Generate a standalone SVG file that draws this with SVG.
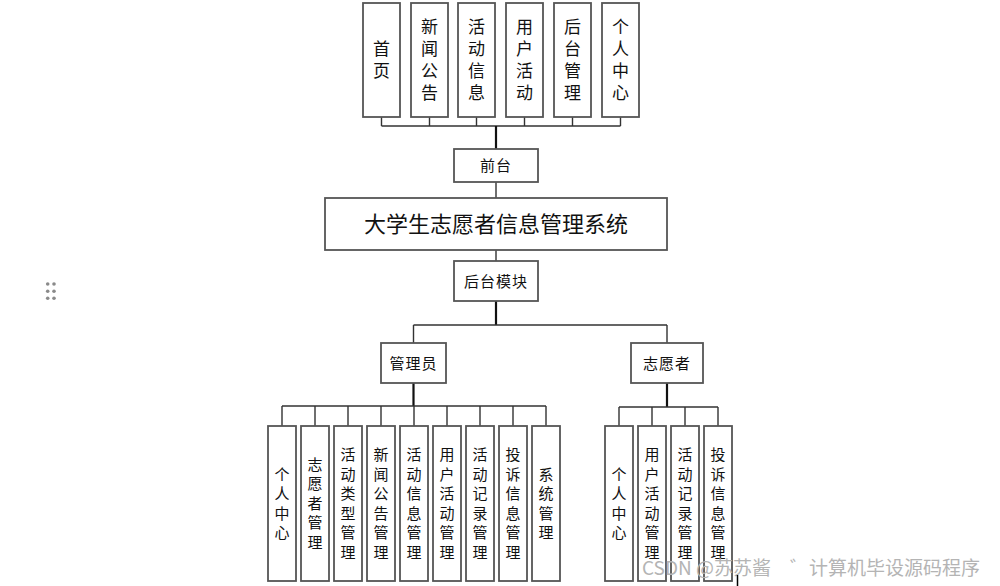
<svg xmlns="http://www.w3.org/2000/svg" width="1000" height="586" viewBox="0 0 1000 586">
<style>
.box{fill:#fff;stroke:#555;stroke-width:1.8}
.t{font-family:"Noto Sans CJK SC","Noto Sans",sans-serif;fill:#111;text-anchor:middle}
.top{font-size:17px}
.sub{font-size:15px}
.mid{font-size:15px;letter-spacing:1px}
.title{font-size:22px}
.c{fill:none;stroke:#333;stroke-width:1.4}
.k{fill:none;stroke:#111;stroke-width:2.2}
.wm{font-family:"Noto Sans CJK SC","Liberation Sans",sans-serif;font-size:19px;fill:#b4b4b4}
</style>
<rect width="1000" height="586" fill="#fff"/>
<g id="drag" fill="#8a8a8a">
<circle cx="47.7" cy="284" r="1.8"/><circle cx="54" cy="284" r="1.8"/>
<circle cx="47.7" cy="291.3" r="1.8"/><circle cx="54" cy="291.3" r="1.8"/>
<circle cx="47.7" cy="298.3" r="1.8"/><circle cx="54" cy="298.3" r="1.8"/>
</g>
<g id="connectors">
<path class="c" d="M381.5 117V126M429.5 117V126M476.5 117V126M524.5 117V126M572.5 117V126M620.5 117V126M381.5 126H620.5"/>
<path class="k" d="M496 126V149"/>
<path class="c" d="M496 182V198M496 250V261"/>
<path class="k" d="M496 301V325"/>
<path class="c" d="M413.5 325H667M413.5 325V343M667 325V343"/>
<path class="k" d="M413.5 383V406M667 383V407"/>
<path class="c" d="M282 406H546M282 406V426M315 406V426M348 406V426M381 406V426M414 406V426M447 406V426M480 406V426M513 406V426M546 406V426"/>
<path class="c" d="M619 407H718M619 407V426M652 407V426M685 407V426M718 407V426"/>
</g>
<g id="n-home"><rect class="box" x="363" y="3" width="37" height="114"/><text class="t top"><tspan x="381.5" y="55">首</tspan><tspan x="381.5" y="77">页</tspan></text></g>
<g id="n-news"><rect class="box" x="411" y="3" width="37" height="114"/><text class="t top"><tspan x="429.5" y="33">新</tspan><tspan x="429.5" y="55">闻</tspan><tspan x="429.5" y="77">公</tspan><tspan x="429.5" y="99">告</tspan></text></g>
<g id="n-act"><rect class="box" x="458" y="3" width="37" height="114"/><text class="t top"><tspan x="476.5" y="33">活</tspan><tspan x="476.5" y="55">动</tspan><tspan x="476.5" y="77">信</tspan><tspan x="476.5" y="99">息</tspan></text></g>
<g id="n-useract"><rect class="box" x="506" y="3" width="37" height="114"/><text class="t top"><tspan x="524.5" y="33">用</tspan><tspan x="524.5" y="55">户</tspan><tspan x="524.5" y="77">活</tspan><tspan x="524.5" y="99">动</tspan></text></g>
<g id="n-backmgr"><rect class="box" x="554" y="3" width="37" height="114"/><text class="t top"><tspan x="572.5" y="33">后</tspan><tspan x="572.5" y="55">台</tspan><tspan x="572.5" y="77">管</tspan><tspan x="572.5" y="99">理</tspan></text></g>
<g id="n-personal"><rect class="box" x="602" y="3" width="37" height="114"/><text class="t top"><tspan x="620.5" y="33">个</tspan><tspan x="620.5" y="55">人</tspan><tspan x="620.5" y="77">中</tspan><tspan x="620.5" y="99">心</tspan></text></g>
<g id="n-front"><rect class="box" x="454" y="149" width="84" height="33"/><text class="t mid" x="496" y="171">前台</text></g>
<g id="n-system"><rect class="box" x="325" y="198" width="342" height="52"/><text class="t title" x="496" y="232">大学生志愿者信息管理系统</text></g>
<g id="n-back"><rect class="box" x="454" y="261" width="84" height="40"/><text class="t mid" x="496" y="286.5">后台模块</text></g>
<g id="n-admin"><rect class="box" x="381" y="343" width="65" height="40"/><text class="t mid" x="413.5" y="368.5">管理员</text></g>
<g id="n-volunteer"><rect class="box" x="631" y="343" width="72" height="40"/><text class="t mid" x="667" y="368.5">志愿者</text></g>
<g id="a1"><rect class="box" x="268" y="426" width="28" height="155"/><text class="t sub"><tspan x="282" y="479.5">个</tspan><tspan x="282" y="499">人</tspan><tspan x="282" y="518.5">中</tspan><tspan x="282" y="538">心</tspan></text></g>
<g id="a2"><rect class="box" x="301" y="426" width="28" height="155"/><text class="t sub"><tspan x="315" y="469.8">志</tspan><tspan x="315" y="489.3">愿</tspan><tspan x="315" y="508.8">者</tspan><tspan x="315" y="528.3">管</tspan><tspan x="315" y="547.8">理</tspan></text></g>
<g id="a3"><rect class="box" x="334" y="426" width="28" height="155"/><text class="t sub"><tspan x="348" y="460">活</tspan><tspan x="348" y="479.5">动</tspan><tspan x="348" y="499">类</tspan><tspan x="348" y="518.5">型</tspan><tspan x="348" y="538">管</tspan><tspan x="348" y="557.5">理</tspan></text></g>
<g id="a4"><rect class="box" x="367" y="426" width="28" height="155"/><text class="t sub"><tspan x="381" y="460">新</tspan><tspan x="381" y="479.5">闻</tspan><tspan x="381" y="499">公</tspan><tspan x="381" y="518.5">告</tspan><tspan x="381" y="538">管</tspan><tspan x="381" y="557.5">理</tspan></text></g>
<g id="a5"><rect class="box" x="400" y="426" width="28" height="155"/><text class="t sub"><tspan x="414" y="460">活</tspan><tspan x="414" y="479.5">动</tspan><tspan x="414" y="499">信</tspan><tspan x="414" y="518.5">息</tspan><tspan x="414" y="538">管</tspan><tspan x="414" y="557.5">理</tspan></text></g>
<g id="a6"><rect class="box" x="433" y="426" width="28" height="155"/><text class="t sub"><tspan x="447" y="460">用</tspan><tspan x="447" y="479.5">户</tspan><tspan x="447" y="499">活</tspan><tspan x="447" y="518.5">动</tspan><tspan x="447" y="538">管</tspan><tspan x="447" y="557.5">理</tspan></text></g>
<g id="a7"><rect class="box" x="466" y="426" width="28" height="155"/><text class="t sub"><tspan x="480" y="460">活</tspan><tspan x="480" y="479.5">动</tspan><tspan x="480" y="499">记</tspan><tspan x="480" y="518.5">录</tspan><tspan x="480" y="538">管</tspan><tspan x="480" y="557.5">理</tspan></text></g>
<g id="a8"><rect class="box" x="499" y="426" width="28" height="155"/><text class="t sub"><tspan x="513" y="460">投</tspan><tspan x="513" y="479.5">诉</tspan><tspan x="513" y="499">信</tspan><tspan x="513" y="518.5">息</tspan><tspan x="513" y="538">管</tspan><tspan x="513" y="557.5">理</tspan></text></g>
<g id="a9"><rect class="box" x="532" y="426" width="28" height="155"/><text class="t sub"><tspan x="546" y="479.5">系</tspan><tspan x="546" y="499">统</tspan><tspan x="546" y="518.5">管</tspan><tspan x="546" y="538">理</tspan></text></g>
<g id="v1"><rect class="box" x="605" y="426" width="28" height="155"/><text class="t sub"><tspan x="619" y="479.5">个</tspan><tspan x="619" y="499">人</tspan><tspan x="619" y="518.5">中</tspan><tspan x="619" y="538">心</tspan></text></g>
<g id="v2"><rect class="box" x="638" y="426" width="28" height="155"/><text class="t sub"><tspan x="652" y="460">用</tspan><tspan x="652" y="479.5">户</tspan><tspan x="652" y="499">活</tspan><tspan x="652" y="518.5">动</tspan><tspan x="652" y="538">管</tspan><tspan x="652" y="557.5">理</tspan></text></g>
<g id="v3"><rect class="box" x="671" y="426" width="28" height="155"/><text class="t sub"><tspan x="685" y="460">活</tspan><tspan x="685" y="479.5">动</tspan><tspan x="685" y="499">记</tspan><tspan x="685" y="518.5">录</tspan><tspan x="685" y="538">管</tspan><tspan x="685" y="557.5">理</tspan></text></g>
<g id="v4"><rect class="box" x="704" y="426" width="28" height="155"/><text class="t sub"><tspan x="718" y="460">投</tspan><tspan x="718" y="479.5">诉</tspan><tspan x="718" y="499">信</tspan><tspan x="718" y="518.5">息</tspan><tspan x="718" y="538">管</tspan><tspan x="718" y="557.5">理</tspan></text></g>
<g id="watermark">
<text class="wm" x="642" y="575">CSDN @苏苏酱</text>
<text class="wm" x="790" y="575">゛计算机毕设源码程序</text>
<path d="M737.5 575V586" stroke="#000" stroke-width="1.5"/>
</g>
</svg>
